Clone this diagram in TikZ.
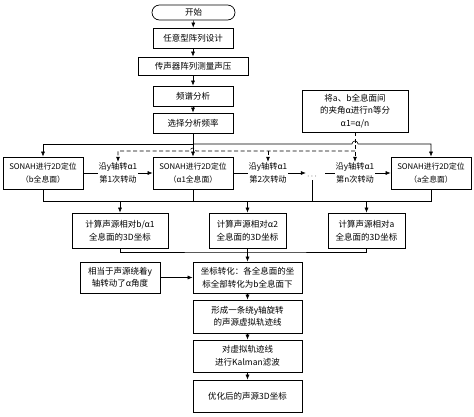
\documentclass[tikz,border=0pt]{standalone}
\usepackage{fontspec}
\setmainfont{Noto Sans CJK SC}
\usetikzlibrary{arrows.meta, positioning}

\begin{document}
\begin{tikzpicture}[
    x=1pt, y=-1pt,
    box/.style={rectangle, draw=black, fill=white, line width=0.7pt, minimum width=80pt, minimum height=20pt, inner sep=1pt, align=center, font=\fontsize{8.5}{12.5}\selectfont},
    sonahbox/.style={box, minimum height=32pt, font=\fontsize{7.8}{12.5}\selectfont},
    startbox/.style={box, rounded corners=7.5pt, minimum width=83pt, minimum height=15pt},
    conn/.style={draw=black, line width=0.6pt, -{Latex[length=5pt, width=4pt]}},
    dconn/.style={conn, dash pattern=on 4pt off 2.5pt},
    wire/.style={draw=black, line width=0.6pt},
    lbl/.style={font=\fontsize{8.2}{12.5}\selectfont, align=center, inner sep=1pt}
]
    \useasboundingbox (0,0) rectangle (474,416);

    % Main column (top)
    \node (start) at (193.5, 12.5) [startbox] {开始};
    \node (design) at (193, 38) [box] {任意型阵列设计};
    \node (measure) at (193, 66) [box, minimum width=110pt, minimum height=18pt] {传声器阵列测量声压};
    \node (spectrum) at (193, 96) [box] {频谱分析};
    \node (selfreq) at (193, 123) [box] {选择分析频率};
    \node (divide) at (355, 111) [box, minimum width=106pt, minimum height=42pt] {将a、b全息面间\\的夹角α进行n等分\\α1=α/n};

    % Row of SONAH localisations (y = 173)
    \node (sonahb) at (43, 173) [sonahbox] {SONAH进行2D定位\\（b全息面）};
    \node (sonaha1) at (193, 173) [sonahbox] {SONAH进行2D定位\\（α1全息面）};
    \node (sonaha) at (431, 173) [sonahbox] {SONAH进行2D定位\\（a全息面）};
    \node (rot1) at (118, 173) [lbl] {沿y轴转α1\\第1次转动};
    \node (rot2) at (268, 173) [lbl] {沿y轴转α1\\第2次转动};
    \node (dots) at (312, 177) [lbl] {$\cdots$};
    \node (rotn) at (355, 173) [lbl] {沿y轴转α1\\第n次转动};

    % Row of 3D coordinates
    \node (calc1) at (120, 230.5) [box, minimum width=96pt, minimum height=35pt] {计算声源相对b/α1\\全息面的3D坐标};
    \node (calc2) at (247.5, 230.5) [box, minimum width=77pt, minimum height=35pt] {计算声源相对α2\\全息面的3D坐标};
    \node (calc3) at (366.5, 230.5) [box, minimum width=77pt, minimum height=35pt] {计算声源相对a\\全息面的3D坐标};

    % Main column (bottom)
    \node (equiv) at (120, 277.5) [box, minimum height=31pt] {相当于声源绕着y\\轴转动了α角度};
    \node (convert) at (247.5, 277.5) [box, minimum width=109pt, minimum height=31pt] {坐标转化：各全息面的坐\\标全部转化为b全息面下};
    \node (track) at (247.5, 316.5) [box, minimum width=109pt, minimum height=33pt] {形成一条绕y轴旋转\\的声源虚拟轨迹线};
    \node (kalman) at (247.5, 356) [box, minimum width=109pt, minimum height=32pt] {对虚拟轨迹线\\进行Kalman滤波};
    \node (result) at (247.5, 396) [box, minimum width=109pt, minimum height=32pt] {优化后的声源3D坐标};

    % Junction points
    \coordinate (jsel) at (193, 144);
    \coordinate (hop1) at (352, 144);
    \coordinate (jdiv) at (355, 151);
    \coordinate (hop2) at (196, 151);
    \coordinate (rotngap) at (325, 173);
    \coordinate (busl) at (43, 201);
    \coordinate (busr) at (431, 201);
    \coordinate (merge) at (247.5, 252);

    % Top column arrows
    \draw [conn] (start) -- (design);
    \draw [conn] (design) -- (measure);
    \draw [conn] (measure) -- (spectrum);
    \draw [conn] (spectrum) -- (selfreq);

    % Frequency fan-out (solid) and rotation fan-out (dashed)
    \draw [conn] (selfreq) -- (sonaha1);
    \draw [conn] (jsel) -| (sonahb);
    \draw [conn] (jsel) -- (hop1) arc[start angle=180, end angle=0, radius=3pt] -| (sonaha);
    \draw [dconn] (divide) -- (rotn);
    \draw [dconn] (jdiv) -- (hop2) arc[start angle=0, end angle=180, radius=3pt] -| (rot1);
    \draw [dconn] (rot2 |- jdiv) -- (rot2);

    % Rotation steps
    \draw [wire] (sonahb) -- (rot1);
    \draw [conn] (rot1) -- (sonaha1);
    \draw [wire] (sonaha1) -- (rot2);
    \draw [conn] (rot2.east) -- (dots.west |- rot2.east);
    \draw [wire] (rotngap) -- (rotn);
    \draw [conn] (rotn) -- (sonaha);

    % Collecting bus
    \draw [wire] (sonahb) -- (busl) -- (busr) -- (sonaha);
    \draw [wire] (sonaha1) -- (sonaha1 |- busl);
    \draw [wire] (dots) -- (dots |- busl);
    \draw [conn] (calc1 |- busl) -- (calc1);
    \draw [conn] (calc2 |- busl) -- (calc2);
    \draw [conn] (calc3 |- busl) -- (calc3);

    % Bottom column
    \draw [wire] (calc1) |- (merge) -| (calc3);
    \draw [conn] (calc2) -- (convert);
    \draw [conn] (equiv) -- (convert);
    \draw [conn] (convert) -- (track);
    \draw [conn] (track) -- (kalman);
    \draw [conn] (kalman) -- (result);

\end{tikzpicture}
\end{document}
